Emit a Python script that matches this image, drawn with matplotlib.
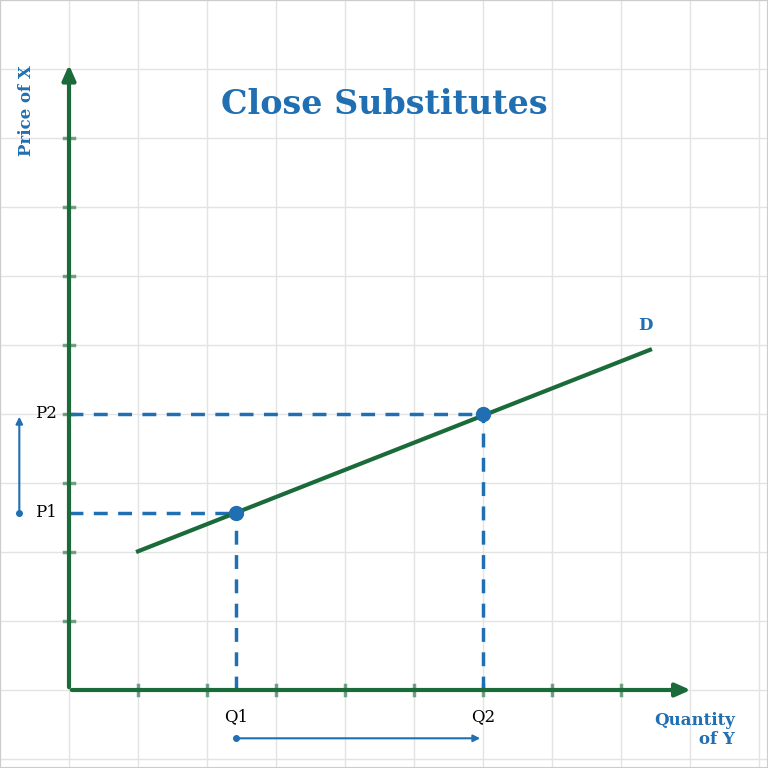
import matplotlib
matplotlib.use("Agg")
import matplotlib.pyplot as plt
import numpy as np

demand_q = [1.0, 8.42]
demand_p = [2.01, 4.93]
q_points = [2.42, 6.0]
p_points = [2.57, 4.0]
q_labels = ["Q1", "Q2"]
p_labels = ["P1", "P2"]

green = "#1b6b3a"
blue = "#1f6fb2"
u = 69.0
fig = plt.figure(figsize=(7.68, 7.68), dpi=100)
ax = fig.add_axes([0, 0, 1, 1])
ax.set_xlim(-1, 768/u - 1)
ax.set_ylim(-(768-690)/u, 690/u)
ax.axis("off")
for k in range(-1, 11):
    ax.axvline(k, color="#e3e3e3", lw=1, zorder=0)
    ax.axhline(k, color="#e3e3e3", lw=1, zorder=0)
fig.patches.append(plt.Rectangle((0, 0), 1, 1, transform=fig.transFigure, fill=False, ec="#cccccc", lw=1.5))

ax.annotate("", xy=(9.05, 0), xytext=(0, 0), arrowprops=dict(arrowstyle="-|>,head_length=0.9,head_width=0.4", color=green, lw=3))
ax.annotate("", xy=(0, 9.1), xytext=(0, 0), arrowprops=dict(arrowstyle="-|>,head_length=0.9,head_width=0.4", color=green, lw=3))
for k in range(1, 9):
    ax.plot([k, k], [-0.07, 0.07], color=green, lw=2.5, alpha=0.6)
    ax.plot([-0.07, 0.07], [k, k], color=green, lw=2.5, alpha=0.6)

ax.plot(demand_q, demand_p, color=green, lw=3, zorder=3)
for q, p in zip(q_points, p_points):
    ax.plot([0, q], [p, p], color=blue, lw=2.5, ls=(0, (4, 3)), zorder=2)
    ax.plot([q, q], [0, p], color=blue, lw=2.5, ls=(0, (4, 3)), zorder=2)
    ax.plot(q, p, "o", color=blue, ms=10, zorder=4)
for q, l in zip(q_points, q_labels):
    ax.text(q, -0.38, l, ha="center", va="center", fontsize=12, family="DejaVu Serif")
for p, l in zip(p_points, p_labels):
    ax.text(-0.34, p, l, ha="center", va="center", fontsize=12, family="DejaVu Serif")

ax.annotate("", xy=(6.0, -0.7), xytext=(2.42, -0.7), arrowprops=dict(arrowstyle="-|>", color=blue, lw=1.5))
ax.plot(2.42, -0.7, "o", color=blue, ms=4)
ax.annotate("", xy=(-0.72, 4.0), xytext=(-0.72, 2.57), arrowprops=dict(arrowstyle="-|>", color=blue, lw=1.5))
ax.plot(-0.72, 2.57, "o", color=blue, ms=4)

ax.text(8.36, 5.28, "D", color=blue, fontsize=12, fontweight="bold", family="DejaVu Serif", ha="center", va="center")
ax.text(4.57, 8.48, "Close Substitutes", color=blue, fontsize=24, fontweight="bold", family="DejaVu Serif", ha="center", va="center")
ax.text(-0.62, 8.4, "Price of X", color=blue, fontsize=12, fontweight="bold", family="DejaVu Serif", rotation=90, ha="center", va="center")
ax.text(9.65, -0.58, "Quantity\nof Y", color=blue, fontsize=12, fontweight="bold", family="DejaVu Serif", ha="right", va="center", multialignment="right")
fig.savefig("out.png", dpi=100)
